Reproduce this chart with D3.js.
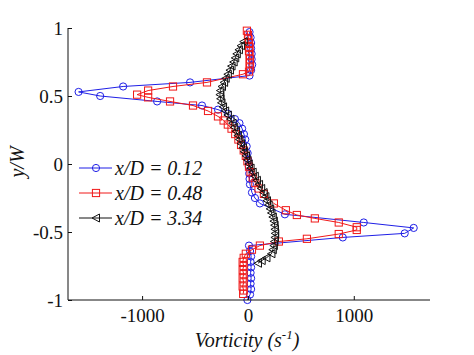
<!DOCTYPE html>
<html>
<head>
<meta charset="utf-8">
<script src="https://cdn.jsdelivr.net/npm/d3@7"></script>
<style>
  html, body { margin: 0; padding: 0; background: #fff; }
  svg { display: block; }
  text { font-family: "Liberation Serif", "Times New Roman", serif; fill: #111; }
</style>
</head>
<body>
<svg id="chart" width="474" height="355"></svg>
<script>
// x/D = 0.12 (blue circles): [vorticity, y/W]
const series012 = [
  [15, 0.97], [25, 0.93], [30, 0.89], [30, 0.85], [35, 0.81], [35, 0.77], [40, 0.73], [30, 0.69], [15, 0.65],
  [-547, 0.60], [-1179, 0.57], [-1600, 0.53], [-1396, 0.50], [-858, 0.46], [-434, 0.43], [-283, 0.40],
  [-189, 0.37], [-123, 0.33], [-80, 0.30], [-55, 0.26], [-38, 0.22], [-25, 0.18], [-12, 0.13], [-3, 0.08],
  [3, 0.03], [8, -0.02], [12, -0.07], [15, -0.11], [19, -0.15], [38, -0.21], [66, -0.25], [113, -0.29],
  [349, -0.37], [1094, -0.43], [1566, -0.47], [1481, -0.51], [896, -0.54], [10, -0.60],
  [20, -0.64], [30, -0.68], [25, -0.72], [30, -0.76], [25, -0.80], [30, -0.84], [25, -0.88], [30, -0.92],
  [20, -0.96], [-5, -1.0]
];

// x/D = 0.48 (red squares)
const series048 = [
  [-10, 0.98], [0, 0.95], [5, 0.92], [10, 0.89], [15, 0.86], [10, 0.83], [15, 0.80], [20, 0.77], [15, 0.74],
  [20, 0.71], [10, 0.68], [-47, 0.66], [-387, 0.60], [-708, 0.57], [-943, 0.54], [-1047, 0.51], [-943, 0.49],
  [-736, 0.46], [-519, 0.43], [-377, 0.39], [-283, 0.35], [-230, 0.32], [-190, 0.29], [-155, 0.26],
  [-120, 0.22], [-90, 0.18], [-65, 0.14], [-40, 0.10], [-20, 0.06], [-5, 0.02], [10, -0.02], [25, -0.06],
  [45, -0.10], [70, -0.14], [100, -0.18], [151, -0.22], [245, -0.29], [358, -0.34], [462, -0.375],
  [632, -0.40], [858, -0.43], [1028, -0.465], [1028, -0.485], [858, -0.515], [557, -0.55], [292, -0.57],
  [113, -0.60], [38, -0.63], [-20, -0.66], [-40, -0.69], [-50, -0.72], [-40, -0.75], [-50, -0.78],
  [-40, -0.81], [-50, -0.84], [-40, -0.87], [-50, -0.90], [-40, -0.93], [-45, -0.955]
];

// x/D = 3.34 (black left triangles)
const series334 = [
  [-40, 0.90], [-65, 0.87], [-85, 0.84], [-105, 0.81], [-120, 0.78], [-135, 0.75], [-155, 0.72],
  [-170, 0.69], [-190, 0.66], [-210, 0.63], [-225, 0.60], [-245, 0.57], [-260, 0.54], [-265, 0.51],
  [-258, 0.48], [-250, 0.45], [-235, 0.42], [-215, 0.39], [-190, 0.36], [-165, 0.33], [-145, 0.30],
  [-130, 0.27], [-112, 0.24], [-95, 0.21], [-80, 0.18], [-65, 0.15], [-48, 0.12], [-35, 0.09],
  [-18, 0.06], [-5, 0.03], [8, 0.0], [25, -0.03], [45, -0.06], [65, -0.09], [85, -0.12], [105, -0.15],
  [125, -0.18], [148, -0.21], [165, -0.24], [180, -0.27], [195, -0.30], [210, -0.33], [222, -0.36],
  [235, -0.39], [245, -0.42], [252, -0.45], [255, -0.48], [258, -0.51], [255, -0.54], [250, -0.57],
  [245, -0.60], [235, -0.63], [222, -0.66], [175, -0.69], [130, -0.71], [95, -0.73]
];

const legendLabels = ['x/D = 0.12', 'x/D = 0.48', 'x/D = 3.34'];
const xTicks = [-1000, 0, 1000];
const yTicks = [-1, -0.5, 0, 0.5, 1];

const svg = d3.select('#chart');
const x = d3.scaleLinear().domain([-1700, 1720]).range([68, 430]);
const y = d3.scaleLinear().domain([-1, 1]).range([300, 28]);

const styles = [
  { data: series012, color: '#1f1fe6', marker: 'circle' },
  { data: series048, color: '#f01818', marker: 'square' },
  { data: series334, color: '#111111', marker: 'triangle' }
];

function drawMarker(g, type, color) {
  if (type === 'circle') {
    g.append('circle').attr('r', 3.6).attr('fill', 'none').attr('stroke', color).attr('stroke-width', 1);
  } else if (type === 'square') {
    g.append('rect').attr('x', -3.6).attr('y', -3.6).attr('width', 7.2).attr('height', 7.2)
      .attr('fill', 'none').attr('stroke', color).attr('stroke-width', 1);
  } else {
    g.append('path').attr('d', 'M-4,0L3.5,-4L3.5,4Z')
      .attr('fill', 'none').attr('stroke', color).attr('stroke-width', 1);
  }
}

const line = d3.line().x((d) => x(d[0])).y((d) => y(d[1]));

styles.forEach((s) => {
  svg.append('path').datum(s.data).attr('d', line)
    .attr('fill', 'none').attr('stroke', s.color).attr('stroke-width', 1);
  svg.append('g').selectAll('g').data(s.data).join('g')
    .attr('transform', (d) => `translate(${x(d[0])},${y(d[1])})`)
    .each(function () { drawMarker(d3.select(this), s.marker, s.color); });
});

// axes
const xAxis = svg.append('g').attr('transform', 'translate(0,300)')
  .call(d3.axisBottom(x).tickValues(xTicks).tickSizeInner(-4).tickSizeOuter(0).tickPadding(9)
    .tickFormat((d) => String(d)));
const yAxis = svg.append('g').attr('transform', 'translate(68,0)')
  .call(d3.axisLeft(y).tickValues(yTicks).tickSizeInner(-4).tickSizeOuter(0).tickPadding(5)
    .tickFormat((d) => String(d)));

[xAxis, yAxis].forEach((a) => {
  a.select('.domain').attr('stroke', '#111').attr('stroke-width', 1);
  a.selectAll('.tick line').attr('stroke', '#111');
  a.selectAll('.tick text').attr('font-size', 19).attr('font-family', '"Liberation Serif", serif').attr('fill', '#111');
});
xAxis.select('.domain').attr('d', 'M68,0H430');
yAxis.select('.domain').attr('d', 'M0,28V300');

// axis labels
svg.append('text').attr('x', 247).attr('y', 347).attr('text-anchor', 'middle')
  .attr('font-size', 20).attr('font-style', 'italic')
  .html('Vorticity (s<tspan dy="-8" font-size="13">-1</tspan><tspan dy="8">)</tspan>');
svg.append('text').attr('transform', 'translate(24,162) rotate(-90)').attr('text-anchor', 'middle')
  .attr('font-size', 20).attr('font-style', 'italic').text('y/W');

// legend
const legend = svg.append('g');
legendLabels.forEach((label, i) => {
  const ly = 168 + i * 25;
  const s = styles[i];
  legend.append('line').attr('x1', 79).attr('x2', 112).attr('y1', ly).attr('y2', ly)
    .attr('stroke', s.color).attr('stroke-width', 1);
  drawMarker(legend.append('g').attr('transform', `translate(96,${ly})`), s.marker, s.color);
  legend.append('text').attr('x', 115).attr('y', ly + 7).attr('font-size', 20)
    .attr('font-style', 'italic').text(label);
});
</script>
</body>
</html>
